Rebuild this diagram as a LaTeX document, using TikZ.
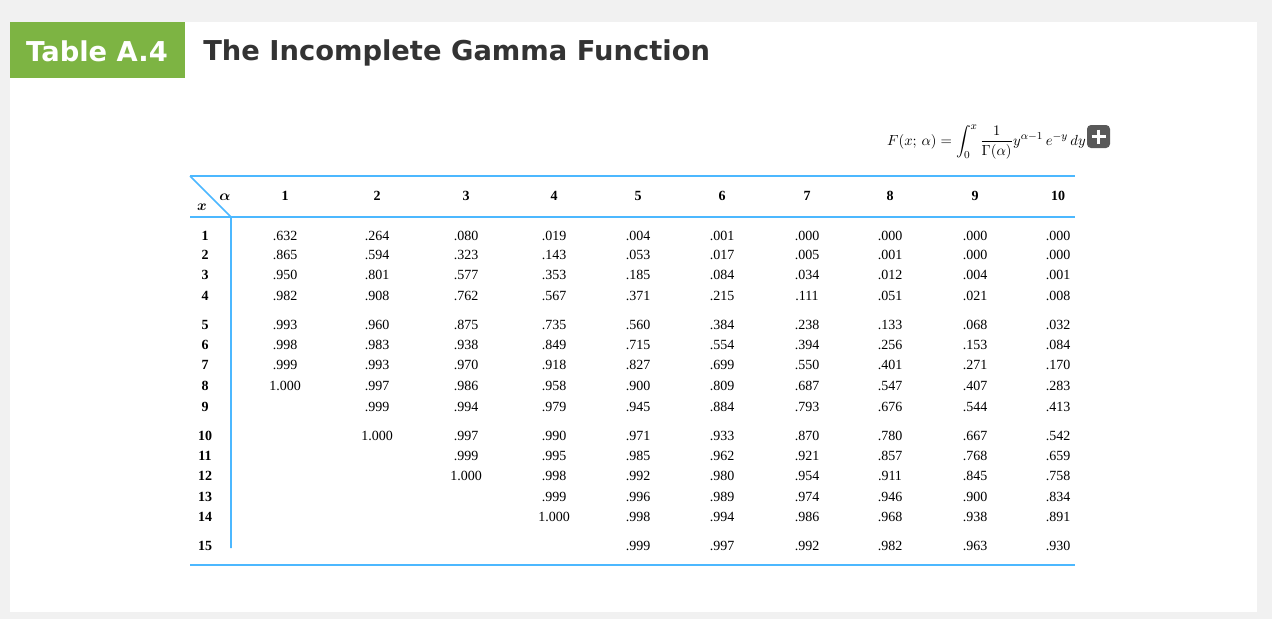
\documentclass[tikz,border=0pt]{standalone}
\usepackage{fontspec}
\setmainfont{Liberation Serif}
\newfontfamily\ttl{DejaVu Sans}
\usepackage{amsmath}
\begin{document}
\begin{tikzpicture}[x=0.75pt,y=-0.75pt,
  cell/.style={font=\fontsize{10.5}{12}\selectfont,inner sep=0pt},
  hd/.style={font=\fontsize{10.5}{12}\selectfont\bfseries,inner sep=0pt},
  rule/.style={draw=blue!40!cyan!70!white,line width=1.2pt}]
\definecolor{bgg}{HTML}{F1F1F1}
\definecolor{grn}{HTML}{7DB443}
\definecolor{ttlc}{HTML}{333333}
\fill[bgg] (0,0) rectangle (1272,619);
\fill[white] (10,22) rectangle (1257,612);
\fill[grn] (10,22) rectangle (185,78);
\node[text=white,font=\ttl\fontsize{20.5}{24}\selectfont\bfseries] (lab) at (97,51) {Table A.4};
\node[text=ttlc,font=\ttl\fontsize{20.5}{24}\selectfont\bfseries,anchor=west,inner sep=0pt] (ttl) at (203,53) {The Incomplete Gamma Function};
\node[anchor=east,inner sep=0pt,font=\fontsize{11}{12}\selectfont] (form) at (1086,142) {$F(x;\,\alpha)=\displaystyle\int_0^x\frac{1}{\Gamma(\alpha)}y^{\alpha-1}\,e^{-y}\,dy$};
\fill[rounded corners=3pt,black!65] (1087,125) rectangle (1110,148);
\draw[white,line width=2.5pt] (1091.5,136.5) -- (1105.5,136.5) (1098.5,129.5) -- (1098.5,143.5);
\coordinate (plus) at (1098,137);
\draw[rule] (190,176) -- (1075,176);
\draw[rule] (190,217) -- (1075,217);
\draw[rule] (190,565) -- (1075,565);
\draw[rule] (190,176) -- (231,217) -- (231,548);
\node[hd] (xh) at (202,207) {$\boldsymbol{x}$};
\node[hd] (ah) at (225,197) {$\boldsymbol{\alpha}$};
\foreach \c/\xx in {1/285,2/377,3/466,4/554,5/638,6/722,7/807,8/890,9/975,10/1058}
  \node[hd] (h\c) at (\xx,196) {\c};
\def\colx{{0,285,377,466,554,638,722,807,890,975,1058}}
\newcommand\trow[4]{% row, y, startcol, values
  \node[hd] (r#1) at (205,#2) {#1};
  \foreach \v [count=\i from #3] in {#4}
    \node[cell] (c#1-\i) at ({\colx[\i]},#2) {\v};}
\trow{1}{236}{1}{.632,.264,.080,.019,.004,.001,.000,.000,.000,.000}
\trow{2}{255}{1}{.865,.594,.323,.143,.053,.017,.005,.001,.000,.000}
\trow{3}{275}{1}{.950,.801,.577,.353,.185,.084,.034,.012,.004,.001}
\trow{4}{296}{1}{.982,.908,.762,.567,.371,.215,.111,.051,.021,.008}
\trow{5}{325}{1}{.993,.960,.875,.735,.560,.384,.238,.133,.068,.032}
\trow{6}{345}{1}{.998,.983,.938,.849,.715,.554,.394,.256,.153,.084}
\trow{7}{365}{1}{.999,.993,.970,.918,.827,.699,.550,.401,.271,.170}
\trow{8}{386}{1}{1.000,.997,.986,.958,.900,.809,.687,.547,.407,.283}
\trow{9}{407}{2}{.999,.994,.979,.945,.884,.793,.676,.544,.413}
\trow{10}{436}{2}{1.000,.997,.990,.971,.933,.870,.780,.667,.542}
\trow{11}{456}{3}{.999,.995,.985,.962,.921,.857,.768,.659}
\trow{12}{476}{3}{1.000,.998,.992,.980,.954,.911,.845,.758}
\trow{13}{497}{4}{.999,.996,.989,.974,.946,.900,.834}
\trow{14}{517}{4}{1.000,.998,.994,.986,.968,.938,.891}
\trow{15}{546}{5}{.999,.997,.992,.982,.963,.930}
\end{tikzpicture}
\end{document}
